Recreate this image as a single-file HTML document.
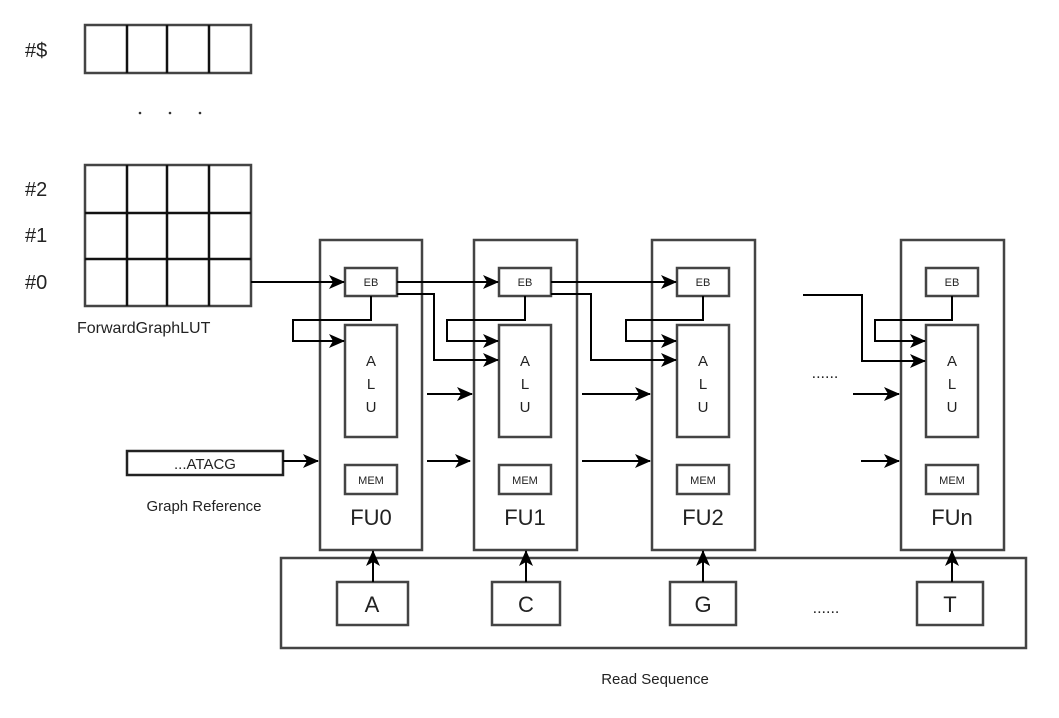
<!DOCTYPE html>
<html><head><style>
html,body{margin:0;padding:0;background:#fff;}
svg{display:block;}
text{font-family:"Liberation Sans",sans-serif;fill:#222;}
</style></head><body>
<svg width="1059" height="718" viewBox="0 0 1059 718" xmlns="http://www.w3.org/2000/svg">
<defs>
<marker id="a" markerWidth="16" markerHeight="14" refX="15" refY="7" orient="auto" markerUnits="userSpaceOnUse">
<path d="M0,0 L16,7 L0,14 L4,7 Z" fill="#000"/>
</marker>
</defs>
<g fill="none" stroke="#444" stroke-width="2.5">
<rect x="85" y="25" width="166" height="48"/>
<line x1="127" y1="25" x2="127" y2="73" stroke="#111"/>
<line x1="167" y1="25" x2="167" y2="73" stroke="#111"/>
<line x1="209" y1="25" x2="209" y2="73" stroke="#111"/>
<rect x="85" y="165" width="166" height="141"/>
<g stroke="#111">
<line x1="127" y1="165" x2="127" y2="306"/>
<line x1="167" y1="165" x2="167" y2="306"/>
<line x1="209" y1="165" x2="209" y2="306"/>
<line x1="85" y1="213" x2="251" y2="213"/>
<line x1="85" y1="259" x2="251" y2="259"/>
</g>
<rect x="127" y="451" width="156" height="24" stroke="#222"/>
<rect x="320" y="240" width="102" height="310"/>
<rect x="474" y="240" width="103" height="310"/>
<rect x="652" y="240" width="103" height="310"/>
<rect x="901" y="240" width="103" height="310"/>
<rect x="345" y="268" width="52" height="28"/>
<rect x="499" y="268" width="52" height="28"/>
<rect x="677" y="268" width="52" height="28"/>
<rect x="926" y="268" width="52" height="28"/>
<rect x="345" y="325" width="52" height="112"/>
<rect x="499" y="325" width="52" height="112"/>
<rect x="677" y="325" width="52" height="112"/>
<rect x="926" y="325" width="52" height="112"/>
<rect x="345" y="465" width="52" height="29"/>
<rect x="499" y="465" width="52" height="29"/>
<rect x="677" y="465" width="52" height="29"/>
<rect x="926" y="465" width="52" height="29"/>
<rect x="281" y="558" width="745" height="90"/>
<rect x="337" y="582" width="71" height="43"/>
<rect x="492" y="582" width="68" height="43"/>
<rect x="670" y="582" width="66" height="43"/>
<rect x="917" y="582" width="66" height="43"/>
</g>
<g fill="none" stroke="#000" stroke-width="2" marker-end="url(#a)">
<path d="M251 282 H344"/>
<path d="M397 282 H498"/>
<path d="M551 282 H676"/>
<path d="M397 294 H434 V360 H498"/>
<path d="M551 294 H591 V360 H676"/>
<path d="M803 295 H862 V361 H925"/>
<path d="M371 296 V320 H293 V341 H344"/>
<path d="M525 296 V320 H447 V341 H498"/>
<path d="M703 296 V320 H626 V341 H676"/>
<path d="M952 296 V320 H875 V341 H925"/>
<path d="M427 394 H472"/>
<path d="M427 461 H470"/>
<path d="M582 394 H650"/>
<path d="M582 461 H650"/>
<path d="M853 394 H899"/>
<path d="M861 461 H899"/>
<path d="M283 461 H318"/>
<path d="M373 582 V551"/>
<path d="M526 582 V551"/>
<path d="M703 582 V551"/>
<path d="M952 582 V551"/>
</g>
<g font-size="20">
<text x="25" y="57">#$</text>
<text x="25" y="196">#2</text>
<text x="25" y="242">#1</text>
<text x="25" y="289">#0</text>
</g>
<g fill="#333">
<circle cx="140" cy="113" r="1.3"/><circle cx="170" cy="113" r="1.3"/><circle cx="200" cy="113" r="1.3"/>
</g>
<text x="77" y="333" font-size="16">ForwardGraphLUT</text>
<text x="205" y="469" font-size="15" text-anchor="middle">...ATACG</text>
<text x="204" y="511" font-size="15" text-anchor="middle">Graph Reference</text>
<g font-size="11" text-anchor="middle">
<text x="371" y="286">EB</text><text x="525" y="286">EB</text><text x="703" y="286">EB</text><text x="952" y="286">EB</text>
<text x="371" y="484">MEM</text><text x="525" y="484">MEM</text><text x="703" y="484">MEM</text><text x="952" y="484">MEM</text>
</g>
<g font-size="15" text-anchor="middle">
<text x="371" y="366">A</text><text x="371" y="389">L</text><text x="371" y="412">U</text>
<text x="525" y="366">A</text><text x="525" y="389">L</text><text x="525" y="412">U</text>
<text x="703" y="366">A</text><text x="703" y="389">L</text><text x="703" y="412">U</text>
<text x="952" y="366">A</text><text x="952" y="389">L</text><text x="952" y="412">U</text>
</g>
<g font-size="22" text-anchor="middle">
<text x="371" y="525">FU0</text><text x="525" y="525">FU1</text><text x="703" y="525">FU2</text><text x="952" y="525">FUn</text>
<text x="372" y="612">A</text><text x="526" y="612">C</text><text x="703" y="612">G</text><text x="950" y="612">T</text>
</g>
<text x="825" y="378" font-size="16" text-anchor="middle">......</text>
<text x="826" y="613" font-size="16" text-anchor="middle">......</text>
<text x="655" y="684" font-size="15" text-anchor="middle">Read Sequence</text>
</svg>
</body></html>
